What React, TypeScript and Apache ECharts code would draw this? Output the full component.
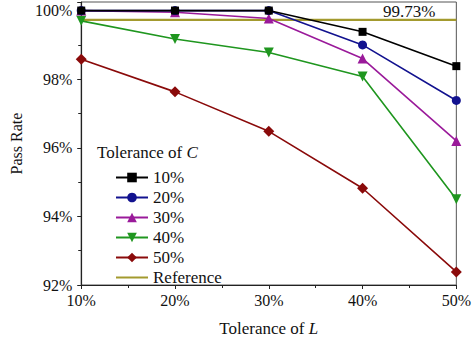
import React, { useEffect, useRef } from "react";
import * as echarts from "echarts";

const xValues = [10, 20, 30, 40, 50];
const seriesNames = ["10%", "20%", "30%", "40%", "50%"];
const s10 = [100, 100, 100, 99.38, 98.38];
const s20 = [100, 100, 100, 99.0, 97.38];
const s30 = [100, 99.95, 99.77, 98.6, 96.2];
const s40 = [99.7, 99.17, 98.78, 98.08, 94.5];
const s50 = [98.58, 97.63, 96.48, 94.82, 92.38];
const referenceValue = 99.73;
const referenceLabel = "99.73%";

const colors = ["#000000", "#12128f", "#9a1a9a", "#1f961f", "#8a0a0a"];
const symbols = ["rect", "circle", "triangle", "path://M0,0 L10,0 L5,10 Z", "diamond"];
const symbolSizes = [8, 9, 10, 10, 11];
const allData = [s10, s20, s30, s40, s50];

const FONT = "Times New Roman, Liberation Serif, DejaVu Serif, serif";

export default function App() {
  const ref = useRef<HTMLDivElement>(null);
  useEffect(() => {
    document.body.style.margin = "0";
    if (!ref.current) return;
    const chart = echarts.init(ref.current, undefined, { renderer: "svg" });
    const lineSeries = allData.map((d, i) => ({
      name: seriesNames[i],
      type: "line",
      data: d.map((v, j) => [xValues[j], v]),
      symbol: symbols[i],
      symbolSize: symbolSizes[i],
      itemStyle: { color: colors[i] },
      lineStyle: { color: colors[i], width: 1.6 },
      z: 10 - i,
    }));
    chart.setOption({
      animation: false,
      textStyle: { fontFamily: FONT },
      grid: { left: 69, right: 15, top: 2, bottom: 49, show: true, borderColor: "#555", borderWidth: 1 },
      legend: {
        orient: "vertical",
        left: 110,
        top: 164,
        itemWidth: 32,
        itemHeight: 12,
        itemGap: 3,
        data: [...seriesNames, { name: "Reference", itemStyle: { opacity: 0 } }],
        textStyle: { fontFamily: FONT, fontSize: 17, color: "#111" },
      },
      xAxis: {
        type: "value",
        min: 10,
        max: 50,
        interval: 10,
        name: "Tolerance of {i|L}",
        nameLocation: "middle",
        nameGap: 35,
        nameTextStyle: {
          fontFamily: FONT,
          fontSize: 17,
          color: "#111",
          rich: { i: { fontFamily: FONT, fontSize: 17, fontStyle: "italic", color: "#111" } },
        },
        axisLine: { lineStyle: { color: "#222", width: 1.2 } },
        axisTick: { show: true, length: 4, lineStyle: { color: "#222" } },
        minorTick: { show: true, splitNumber: 2, length: 3, lineStyle: { color: "#222" } },
        splitLine: { show: false },
        axisLabel: { formatter: "{value}%", fontFamily: FONT, fontSize: 16, color: "#111", margin: 7 },
      },
      yAxis: {
        type: "value",
        min: 92,
        max: 100.25,
        interval: 2,
        name: "Pass Rate",
        nameLocation: "middle",
        nameGap: 55,
        nameTextStyle: { fontFamily: FONT, fontSize: 16, color: "#111" },
        axisLine: { show: true, lineStyle: { color: "#222", width: 1.2 } },
        axisTick: { show: true, length: 4, lineStyle: { color: "#222" } },
        minorTick: { show: true, splitNumber: 2, length: 3, lineStyle: { color: "#222" } },
        splitLine: { show: false },
        axisLabel: {
          formatter: (v: number) => (Math.abs(v - Math.round(v)) < 1e-6 && Math.round(v) % 2 === 0 ? `${v}%` : ""),
          fontFamily: FONT,
          fontSize: 16,
          color: "#111",
          margin: 9,
        },
      },
      series: [
        ...lineSeries,
        {
          name: "Reference",
          type: "line",
          data: [
            [xValues[0], referenceValue],
            [xValues[xValues.length - 1], referenceValue],
          ],
          symbol: "none",
          itemStyle: { color: "#a39a2e" },
          lineStyle: { color: "#a39a2e", width: 2.2 },
          z: 3,
        },
      ],
      graphic: [
        {
          type: "text",
          left: 97,
          top: 144,
          style: {
            text: "Tolerance of {i|C}",
            fontFamily: FONT,
            fontSize: 17,
            fill: "#111",
            rich: { i: { fontFamily: FONT, fontSize: 17, fontStyle: "italic", fill: "#111" } },
          },
        },
        {
          type: "text",
          left: 383,
          top: 3,
          style: { text: referenceLabel, fontFamily: FONT, fontSize: 17, fill: "#111" },
        },
      ],
    });
    return () => chart.dispose();
  }, []);
  return <div ref={ref} style={{ width: 474, height: 342 }} />;
}
